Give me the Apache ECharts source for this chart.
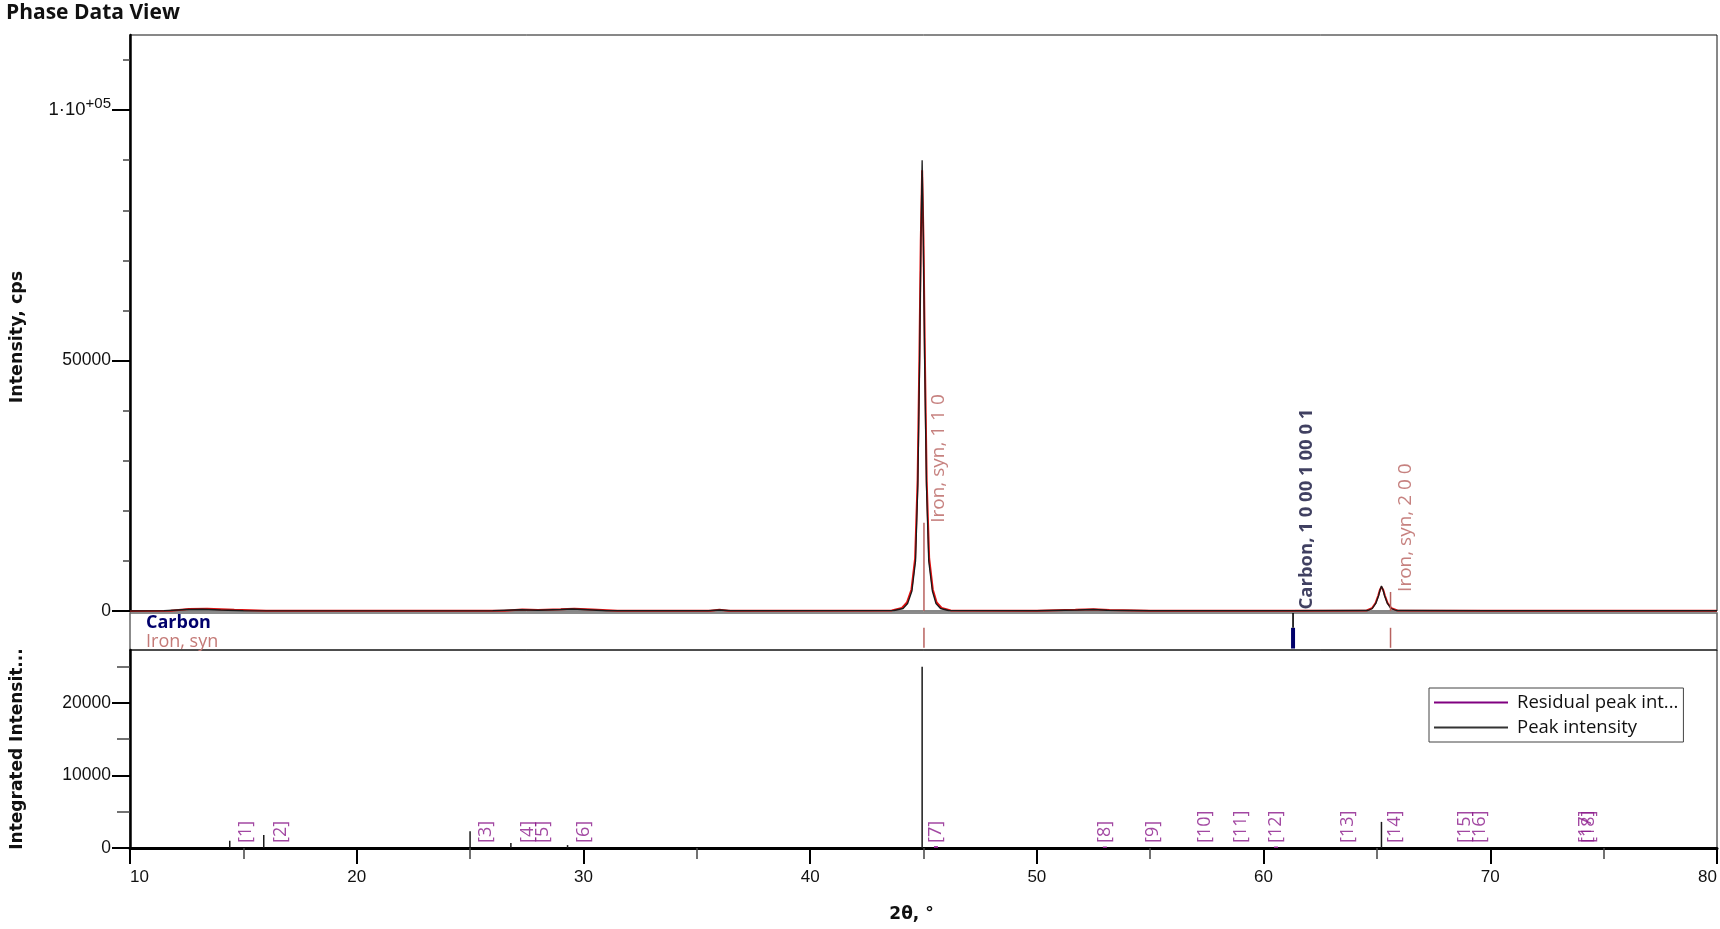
<!DOCTYPE html>
<html>
<head>
<meta charset="utf-8">
<script src="https://cdn.jsdelivr.net/npm/echarts@6/dist/echarts.min.js"></script>
<style>
html,body{margin:0;padding:0;background:#fff;}
#chart{width:1720px;height:929px;}
</style>
</head>
<body>
<div id="chart"></div>
<script>
// ---------- DATA ----------
const xTicks = [10, 20, 30, 40, 50, 60, 70, 80];
const intensityTicks = [0, 50000, 100000];
const integratedTicks = [0, 10000, 20000];

// observed pattern (2θ, cps)
const obsX = [10, 11.5, 12.5, 13.2, 14.0, 15, 20, 26, 27.2, 28, 29.0, 29.5, 30.2, 31, 35.5, 36, 36.5,
  43.7, 44.1, 44.3, 44.49, 44.65, 44.75, 44.83, 44.89, 44.94, 44.99, 45.05, 45.13, 45.23, 45.39, 45.55, 45.75, 46.1,
  50, 51.8, 52.5, 53.1, 55, 61,
  64.6, 64.8, 64.95, 65.07, 65.14, 65.2, 65.27, 65.34, 65.46, 65.62, 65.85, 70, 80];
const obsY = [0, 50, 300, 350, 200, 50, 30, 50, 250, 150, 300, 400, 250, 50, 50, 200, 50,
  100, 500, 1500, 4000, 10000, 25000, 50000, 75000, 90000, 75000, 50000, 25000, 10000, 4000, 1500, 500, 100,
  50, 200, 300, 150, 50, 50,
  100, 500, 1500, 3000, 4200, 5000, 4200, 3000, 1500, 500, 100, 50, 50];

// calculated pattern
const calcX = [10, 11.8, 12.6, 13.4, 14.6, 16, 20, 26.5, 27.3, 28, 29.0, 29.6, 30.4, 31.5, 35.6, 36, 36.4,
  43.6, 44.05, 44.27, 44.47, 44.63, 44.74, 44.82, 44.88, 44.94, 45.0, 45.06, 45.14, 45.25, 45.41, 45.58, 45.8, 46.2,
  50, 51.7, 52.5, 53.2, 55, 61,
  64.55, 64.78, 64.94, 65.06, 65.13, 65.2, 65.28, 65.35, 65.47, 65.64, 65.9, 70, 80];
const calcY = [0, 60, 400, 450, 250, 50, 30, 60, 300, 200, 350, 450, 300, 60, 50, 250, 50,
  120, 600, 1700, 4300, 10500, 26000, 51000, 74000, 88000, 74000, 51000, 26000, 10500, 4300, 1700, 600, 120,
  50, 250, 350, 200, 50, 50,
  120, 550, 1600, 3100, 4200, 4800, 4200, 3100, 1600, 550, 120, 50, 50];

// phase reference lines
const ironPos = [45.02, 65.6];
const ironHeights = [17600, 3800];
const ironHkl = ['1 1 0', '2 0 0'];
const carbonPos = [61.3];
const carbonHeights = [300];
const carbonHkl = ['1 0 00 1 00 0 1'];

// bottom panel
const peakPos = [14.4, 15.9, 25.0, 26.8, 29.3, 44.94, 65.2];
const peakVal = [1000, 1800, 2300, 700, 400, 25000, 3600];
const residPos = [15.1, 16.65, 25.7, 27.55, 28.2, 30.0, 45.55, 53.0, 55.1, 57.4, 59.0, 60.55, 63.7, 65.8, 68.9, 69.55, 74.2, 74.35];
const residVal = [0, 0, 0, 0, 0, 0, 250, 200, 0, 0, 0, 200, 0, 0, 0, 0, 0, 0];
const residLabels = residPos.map((_, i) => '[' + (i + 1) + ']');

// ---------- CHART ----------
const chart = echarts.init(document.getElementById('chart'), null, {renderer: 'canvas'});

const AX = 'Liberation Sans';
const TT = 'DejaVu Sans';
const UI = 'Open Sans';
const rosy = '#b8625f';
const navy = '#00006b';
const purple = '#8b1a8b';

function seg(color, width) {
  return function (params, api) {
    const a = api.coord([api.value(0), api.value(1)]);
    const b = api.coord([api.value(0), api.value(2)]);
    return {type: 'line', shape: {x1: a[0], y1: a[1], x2: b[0], y2: b[1]},
      style: {stroke: color, lineWidth: width}};
  };
}

const minorTop = [];
for (let v = 10000; v <= 110000; v += 10000) if (v % 50000 !== 0) minorTop.push(v);

const nameStyle = {fontFamily: TT, fontWeight: 'bold', fontSize: 17.5, color: '#111'};

const option = {
  animation: false,
  backgroundColor: '#fff',
  title: {text: 'Phase Data View', left: 1, top: -2,
    textStyle: {fontFamily: UI, fontWeight: 'bold', fontSize: 21, color: '#111'}},
  grid: [
    {left: 130, right: 3, top: 35, height: 576, show: true, borderColor: '#111', borderWidth: 1, outerBoundsMode: 'none'},
    {left: 130, right: 3, top: 613, height: 37, show: true, borderColor: '#666', borderWidth: 1.5, outerBoundsMode: 'none'},
    {left: 130, right: 3, top: 650, height: 198, show: true, borderColor: '#111', borderWidth: 1, outerBoundsMode: 'none'}
  ],
  xAxis: [
    {gridIndex: 0, type: 'value', min: 10, max: 80, show: false},
    {gridIndex: 1, type: 'value', min: 10, max: 80, show: false},
    {gridIndex: 2, type: 'value', min: 10, max: 80, interval: 10,
      axisLine: {show: true, onZero: false, lineStyle: {color: '#000', width: 3}},
      axisTick: {show: true, length: 16, lineStyle: {color: '#000', width: 2}},
      minorTick: {show: true, splitNumber: 2, length: 11, lineStyle: {color: '#444', width: 1.5}},
      splitLine: {show: false},
      axisLabel: {fontFamily: AX, fontSize: 17, color: '#111', margin: 21,
        customValues: xTicks, alignMinLabel: 'left', alignMaxLabel: 'right'},
      name: '2θ, °', nameLocation: 'middle', nameGap: 58,
      nameTextStyle: Object.assign({padding: [0, 24, 0, 0]}, nameStyle, {fontSize: 17})}
  ],
  yAxis: [
    {gridIndex: 0, type: 'value', min: 0, max: 115000, interval: 50000,
      axisLine: {show: true, lineStyle: {color: '#000', width: 2.5}},
      axisTick: {show: true, length: 18, customValues: intensityTicks, lineStyle: {color: '#000', width: 2}},
      splitLine: {show: false},
      axisLabel: {customValues: intensityTicks, fontFamily: AX, fontSize: 17.5, color: '#111', margin: 19,
        formatter: v => v === 100000 ? '{b|1·10}{s|+05}' : String(v),
        rich: {b: {fontFamily: AX, fontSize: 18.5, color: '#111'},
               s: {fontFamily: AX, fontSize: 15, color: '#111', padding: [0, 0, 12, 0]}}},
      name: 'Intensity, cps', nameLocation: 'middle', nameGap: 104,
      nameTextStyle: Object.assign({padding: [0, 28, 0, 0]}, nameStyle)},
    {gridIndex: 0, type: 'value', min: 0, max: 115000, position: 'left',
      axisLine: {show: false}, axisLabel: {show: false}, splitLine: {show: false},
      axisTick: {show: true, length: 7, customValues: minorTop, lineStyle: {color: '#444', width: 1.5}}},
    {gridIndex: 1, type: 'value', min: 0, max: 1, show: false},
    {gridIndex: 2, type: 'value', min: 0, max: 27300, interval: 10000,
      axisLine: {show: true, onZero: false, lineStyle: {color: '#000', width: 2.5}},
      axisTick: {show: true, length: 18, customValues: integratedTicks, lineStyle: {color: '#000', width: 2}},
      splitLine: {show: false},
      axisLabel: {customValues: integratedTicks, fontFamily: AX, fontSize: 17.5, color: '#111', margin: 19,
        formatter: v => String(v)},
      name: 'Integrated Intensit...', nameLocation: 'middle', nameGap: 104,
      nameTextStyle: Object.assign({}, nameStyle, {fontSize: 17})},
    {gridIndex: 2, type: 'value', min: 0, max: 27300, position: 'left',
      axisLine: {show: false}, axisLabel: {show: false}, splitLine: {show: false},
      axisTick: {show: true, length: 13, customValues: [5000, 15000, 25000], lineStyle: {color: '#444', width: 1.5}}}
  ],
  legend: {
    orient: 'vertical', left: 1429, top: 688,
    backgroundColor: '#fff', borderColor: '#444', borderWidth: 1, borderRadius: 0,
    padding: [5, 5, 5, 5], itemGap: 6, itemWidth: 74, itemHeight: 2,
    textStyle: {fontFamily: UI, fontSize: 18.5, color: '#111', padding: [0, 0, 0, 4]},
    data: [{name: 'Residual peak int...', icon: 'rect'}, {name: 'Peak intensity', icon: 'rect'}]
  },
  graphic: [
    {type: 'text', left: 146, top: 614, z: 0, style: {text: 'Carbon', fontFamily: UI, fontWeight: 'bold', fontSize: 18, fill: navy}},
    {type: 'text', left: 146, top: 633, z: 0, style: {text: 'Iron, syn', fontFamily: UI, fontSize: 18, fill: '#c47a77'}}
  ],
  series: [
    // top panel curves
    {type: 'line', name: 'calc', xAxisIndex: 0, yAxisIndex: 0, data: calcX.map((x, i) => [x, calcY[i]]),
      showSymbol: false, lineStyle: {color: '#e01010', width: 2}, z: 2, silent: true},
    {type: 'line', name: 'obs', xAxisIndex: 0, yAxisIndex: 0, data: obsX.map((x, i) => [x, obsY[i]]),
      showSymbol: false, lineStyle: {color: '#1a1a1a', width: 1.3}, z: 3, silent: true},
    // top panel iron sticks
    {type: 'custom', name: 'ironSticks', xAxisIndex: 0, yAxisIndex: 0, renderItem: seg(rosy, 1.5), z: 4,
      data: ironPos.map((x, i) => [x, 0, ironHeights[i]]), silent: true},
    // top panel annotations
    {type: 'scatter', name: 'ironLab', xAxisIndex: 0, yAxisIndex: 0, symbolSize: 0.1, itemStyle: {color: 'rgba(0,0,0,0)'},
      data: ironPos.map((x, i) => ({value: [x, ironHeights[i]], hkl: ironHkl[i]})), z: 5, silent: true,
      label: {show: true, position: 'top', distance: 0, rotate: 90, align: 'left', verticalAlign: 'middle', offset: [0, 15],
        formatter: p => 'Iron, syn, ' + p.data.hkl, fontFamily: UI, fontSize: 19, color: rosy}},
    {type: 'scatter', name: 'carbonLab', xAxisIndex: 0, yAxisIndex: 0, symbolSize: 0.1, itemStyle: {color: 'rgba(0,0,0,0)'},
      data: carbonPos.map((x, i) => ({value: [x, carbonHeights[i]], hkl: carbonHkl[i]})), z: 5, silent: true,
      label: {show: true, position: 'top', distance: 0, rotate: 90, align: 'left', verticalAlign: 'middle', offset: [0, 14],
        formatter: p => 'Carbon, ' + p.data.hkl, fontFamily: UI, fontWeight: 'bold', fontSize: 18.5, color: '#10103a'}},
    // phase panel sticks
    {type: 'custom', name: 'ironPhase', xAxisIndex: 1, yAxisIndex: 2, renderItem: seg(rosy, 1.5),
      data: ironPos.map(x => [x, 0.06, 0.6]), silent: true},
    {type: 'custom', name: 'carbonPhase', xAxisIndex: 1, yAxisIndex: 2, renderItem: seg(navy, 4),
      data: carbonPos.map(x => [x, 0.04, 0.6]), silent: true},
    {type: 'custom', name: 'carbonPhaseTop', xAxisIndex: 1, yAxisIndex: 2, renderItem: seg('#000', 1.6),
      data: carbonPos.map(x => [x, 0.6, 1.0]), silent: true},
    // bottom panel
    {type: 'custom', name: 'Peak intensity', xAxisIndex: 2, yAxisIndex: 3, itemStyle: {color: '#333'},
      renderItem: seg('#1a1a1a', 1.5), data: peakPos.map((x, i) => [x, 0, peakVal[i]]), silent: true},
    {type: 'custom', name: 'Residual peak int...', xAxisIndex: 2, yAxisIndex: 3, itemStyle: {color: '#800080'},
      renderItem: seg(purple, 4), data: residPos.map((x, i) => [x, 0, residVal[i]]), silent: true, z: 3},
    {type: 'scatter', name: 'residLab', xAxisIndex: 2, yAxisIndex: 3, symbolSize: 0.1, itemStyle: {color: 'rgba(0,0,0,0)'},
      data: residPos.map((x, i) => ({value: [x, 0], lab: residLabels[i]})), z: 5, silent: true,
      label: {show: true, position: 'top', distance: 5, rotate: 90, align: 'left', verticalAlign: 'middle',
        formatter: p => p.data.lab, fontFamily: UI, fontSize: 18, color: purple}}
  ]
};
chart.setOption(option);
</script>
</body>
</html>
